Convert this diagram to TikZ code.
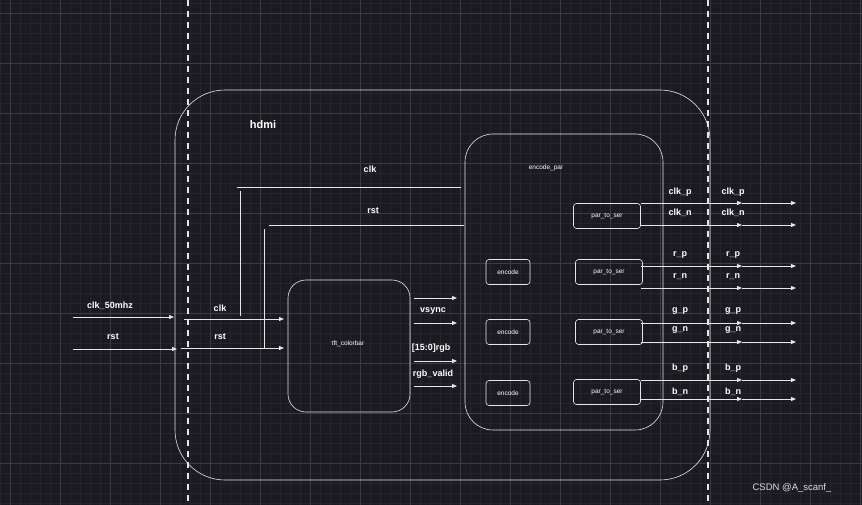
\documentclass[tikz,border=0pt]{standalone}
\usepackage{fontspec}
\setmainfont{Liberation Sans}
\usetikzlibrary{arrows.meta}
\definecolor{bg}{HTML}{1B1A21}
\definecolor{minor}{HTML}{26252D}
\definecolor{major}{HTML}{3C3B44}
\definecolor{wire}{HTML}{E6E6E6}
\begin{document}
\begin{tikzpicture}[x=1pt,y=-1pt,
  box/.style={draw=wire,line width=0.6pt},
  lbl/.style={text=white,font=\bfseries\fontsize{9}{10}\selectfont},
  small/.style={text=white,font=\fontsize{6.5}{7.5}\selectfont},
  arr/.style={draw=wire,line width=0.8pt,-{Triangle[length=5pt,width=4pt]}},
  ln/.style={draw=wire,line width=1pt},
  dashline/.style={draw=wire,line width=1.5pt,dash pattern=on 6pt off 5pt}]
\fill[bg] (0,0) rectangle (862,505);
\useasboundingbox (0,0) rectangle (862,505);
\foreach \x in {0,10,...,860} \draw[minor,line width=0.4pt] (\x,0) -- (\x,505);
\foreach \y in {3,13,...,503} \draw[minor,line width=0.4pt] (0,\y) -- (862,\y);
\foreach \x in {10,60,...,860} \draw[major,line width=0.6pt] (\x,0) -- (\x,505);
\foreach \y in {13,63,...,503} \draw[major,line width=0.6pt] (0,\y) -- (862,\y);
\draw[dashline] (188,0) -- (188,505);
\draw[dashline] (708,0) -- (708,505);
% boxes
\draw[box,rounded corners=50pt] (175,90) rectangle (710,480);
\node[text=white,font=\bfseries\fontsize{11}{12}\selectfont] (hdmi) at (263,125) {hdmi};
\draw[box,rounded corners=28pt] (465,134) rectangle (663,430);
\node[small] (ep) at (546,168) {encode\_par};
\draw[box,rounded corners=18pt] (288,280) rectangle (410,412);
\node[small] (tft) at (348,344) {tft\_colorbar};
\foreach \n/\y in {e1/272,e2/332,e3/393}
  \node[box,rounded corners=3pt,minimum width=44pt,minimum height=25pt,small] (\n) at (508,\y) {encode};
\foreach \n/\x/\y in {p0/607/216,p1/609/272,p2/609/332,p3/607/392}
  \node[box,rounded corners=3pt,minimum width=67pt,minimum height=25pt,small] (\n) at (\x,\y) {par\_to\_ser};
% inputs
\coordinate (i1) at (73,317); \coordinate (i1e) at (174,317);
\coordinate (i2) at (73,349); \coordinate (i2e) at (177,349);
\draw[arr] (i1) -- (i1e); \draw[arr] (i2) -- (i2e);
\node[lbl] at (110,306) {clk\_50mhz};
\node[lbl] at (113,337) {rst};
\coordinate (c1) at (184,319); \coordinate (c1e) at (284,319);
\coordinate (r1) at (181,348); \coordinate (r1e) at (284,348);
\draw[arr] (c1) -- (c1e);
\draw[arr] (r1) -- (r1e);
\node[lbl] at (220,308) {clk};
\node[lbl] at (220,337) {rst};
\coordinate (cv) at (240,316); \coordinate (cv2) at (240,191);
\draw[ln] (cv) -- (cv2);
\coordinate (ch) at (237,188); \coordinate (ch2) at (461,188);
\draw[ln] (ch) -- (ch2);
\node[lbl] at (370,169) {clk};
\coordinate (rv) at (264,348); \coordinate (rv2) at (264,229);
\draw[ln] (rv) -- (rv2);
\coordinate (rh) at (269,226); \coordinate (rh2) at (464,226);
\draw[ln] (rh) -- (rh2);
\node[lbl] at (373,211) {rst};
% tft outputs
\foreach \y in {298,323,361,386} {\coordinate (o\y) at (414,\y); \coordinate (oe\y) at (457,\y); \draw[arr] (o\y) -- (oe\y);}
\node[lbl] at (433,311) {vsync};
\node[lbl] at (431,348) {[15:0]rgb};
\node[lbl] at (433,374) {rgb\_valid};
% outputs
\foreach \y/\a/\ly in {203/clk\_p/192,225/clk\_n/213,266/r\_p/255,288/r\_n/277,323/g\_p/311,342/g\_n/330,380/b\_p/368,399/b\_n/392} {
  \coordinate (s\y) at (641,\y); \coordinate (m\y) at (742,\y); \coordinate (t\y) at (796,\y);
  \draw[arr] (s\y) -- (m\y);
  \draw[arr] (m\y) -- (t\y);
  \node[lbl] at (680,\ly) {\a};
  \node[lbl] at (733,\ly) {\a};
}
\node[text=white!75!gray,font=\fontsize{9.5}{10}\selectfont] at (792,488) {CSDN @A\_scanf\_};
\end{tikzpicture}
\end{document}
